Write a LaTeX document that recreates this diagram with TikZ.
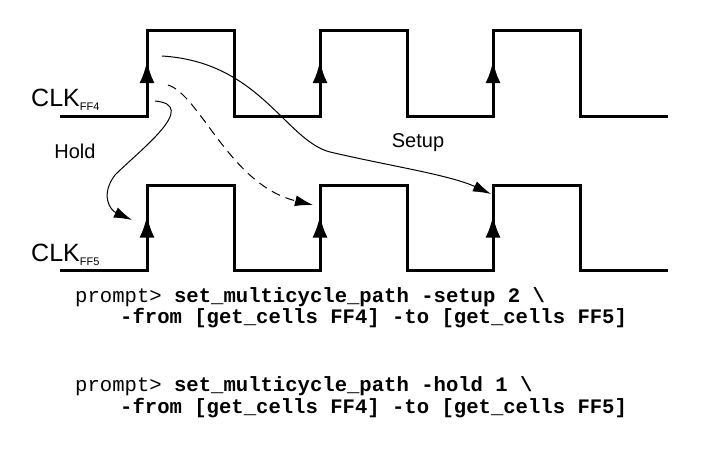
\documentclass[tikz,border=0pt]{standalone}
\usepackage{fontspec}
\setmainfont{Liberation Sans}
\setmonofont{Liberation Mono}
\usetikzlibrary{arrows.meta}
\begin{document}
\begin{tikzpicture}[x=1pt,y=-1pt,
  wave/.style={line width=3pt},
  edge/.style={line width=3pt,-{Latex[length=22pt,width=15pt]}},
  flow/.style={line width=1pt,-{Latex[length=18pt,width=11pt]}},
  lbl/.style={inner sep=0pt,font=\fontsize{20}{22}\selectfont},
  code/.style={inner sep=0pt,anchor=west,font=\fontsize{20.6}{24}\ttfamily}]
\useasboundingbox (0,0) rectangle (711,464);
% waveforms
\foreach \lo/\hi in {116/30, 270/185}{
  \draw[wave] (60,\lo) -- (147,\lo) -- (147,\hi) -- (234,\hi) -- (234,\lo) -- (320,\lo)
    -- (320,\hi) -- (407,\hi) -- (407,\lo) -- (493,\lo) -- (493,\hi) -- (580,\hi)
    -- (580,\lo) -- (668,\lo);
  \foreach \x in {147,320,493}
    \draw[edge] (\x,\lo) -- (\x,{(\lo+\hi)/2-12});
}
\node[lbl,anchor=west,font=\fontsize{25}{28}\selectfont] (c4) at (31,100) {CLK\textsubscript{\fontsize{11}{12}\selectfont FF4}};
\node[lbl,anchor=west,font=\fontsize{25}{28}\selectfont] (c5) at (31,255) {CLK\textsubscript{\fontsize{11}{12}\selectfont FF5}};
\node[lbl] (hold) at (75,151) {Hold};
\node[lbl] (setup) at (418,143) {Setup};
% paths
\coordinate (s0) at (162,56); \coordinate (s1) at (491,194);
\coordinate (d0) at (168,85); \coordinate (d1) at (313,205);
\coordinate (h0) at (155,101); \coordinate (h1) at (132,220);
\draw[flow] (s0) .. controls (260,62) and (285,140) .. (330,152) .. controls (390,166) and (450,175) .. (s1);
\draw[flow,dash pattern=on 9pt off 6pt] (d0) .. controls (200,95) and (230,185) .. (d1);
\draw[flow] (h0) .. controls (200,105) and (140,150) .. (115,175) .. controls (100,195) and (110,210) .. (h1);
% commands
\node[code] (p1) at (75,297) {prompt> \textbf{set\_multicycle\_path -setup 2 \textbackslash}};
\node[code] (p2) at (120,318) {\textbf{-from [get\_cells FF4] -to [get\_cells FF5]}};
\node[code] (p3) at (75,386) {prompt> \textbf{set\_multicycle\_path -hold 1 \textbackslash}};
\node[code] (p4) at (120,408) {\textbf{-from [get\_cells FF4] -to [get\_cells FF5]}};
\end{tikzpicture}
\end{document}
